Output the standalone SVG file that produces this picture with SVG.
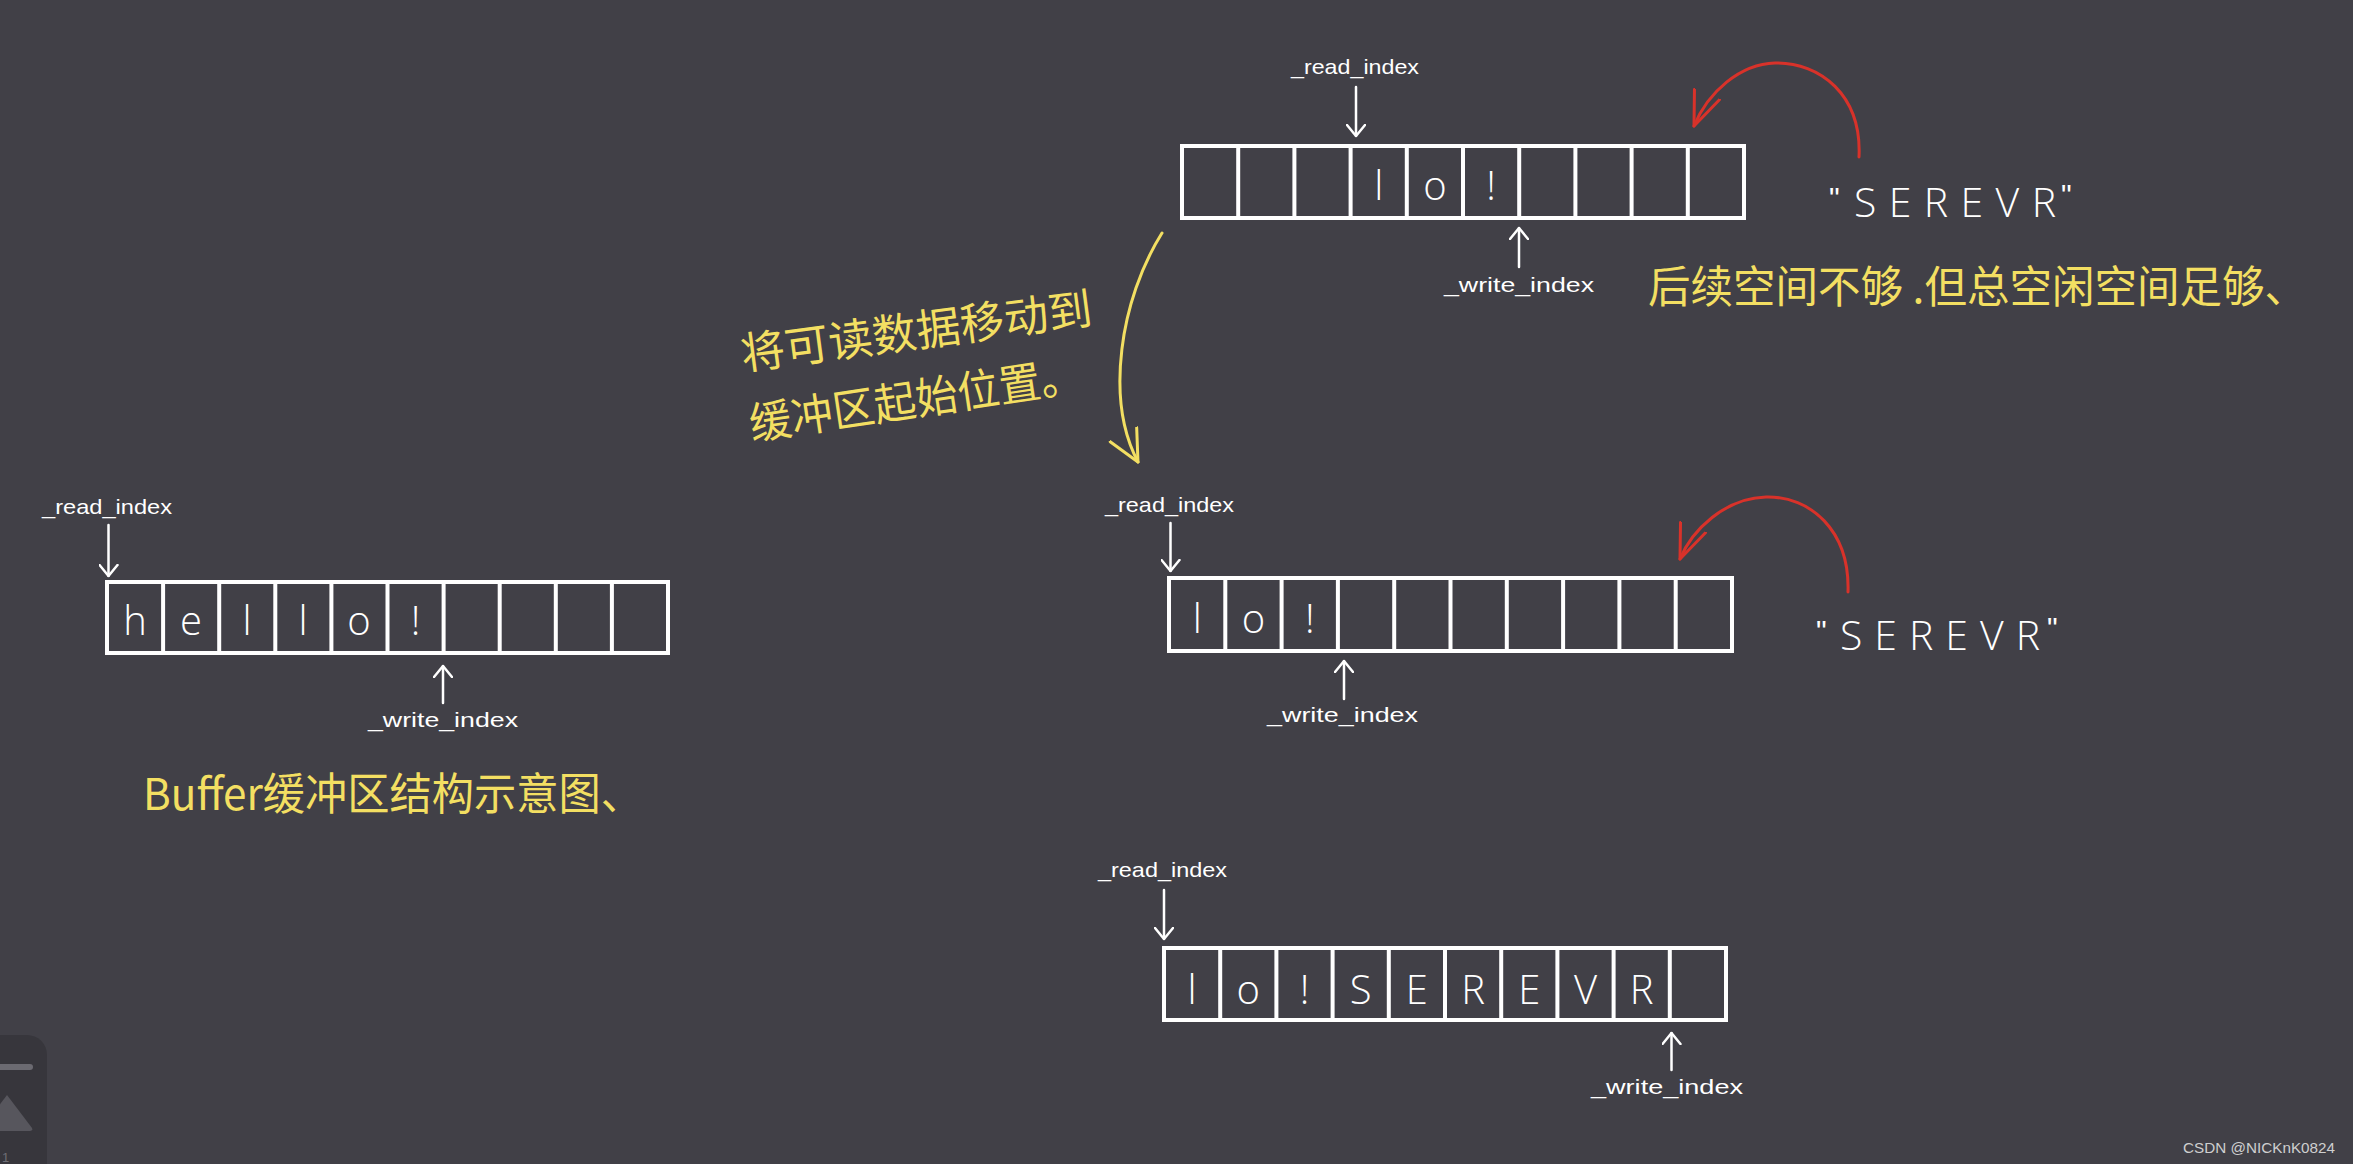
<svg xmlns="http://www.w3.org/2000/svg" width="2353" height="1164" viewBox="0 0 2353 1164">
<style>
.buf{fill:none;stroke:#ffffff;stroke-width:4}
.ch{font-family:"Open Sans","Liberation Sans",sans-serif;font-weight:300;font-size:40px;fill:#ffffff;text-anchor:middle}
.lbl{font-family:"Liberation Sans","DejaVu Sans",sans-serif;font-size:21px;fill:#ffffff}
.idx{fill:none;stroke:#ffffff;stroke-width:2.5;stroke-linecap:round}
.red{fill:none;stroke:#d8322a;stroke-width:3;stroke-linecap:round}
.yel{fill:none;stroke:#f3df62;stroke-width:3;stroke-linecap:round}
.note{font-family:"Noto Sans CJK SC","Liberation Sans",sans-serif;font-size:44px;fill:#f3df62}
.str{font-family:"Open Sans","Liberation Sans",sans-serif;font-weight:300;font-size:41px;fill:#ffffff}
.q{font-family:"Liberation Sans",sans-serif;font-size:30px;fill:#ffffff}
</style>
<defs>
<marker id="wh" viewBox="0 0 13 20" refX="12" refY="10" markerWidth="13" markerHeight="20" markerUnits="userSpaceOnUse" orient="auto">
<path d="M1,1 L12,10 L1,19" fill="none" stroke="#ffffff" stroke-width="2.5" stroke-linecap="round" stroke-linejoin="round"/>
</marker>
<marker id="rd" viewBox="0 0 37 31" refX="35" refY="15.5" markerWidth="37" markerHeight="31" markerUnits="userSpaceOnUse" orient="auto">
<path d="M1,2 L35,15.5 L1,29" fill="none" stroke="#d8322a" stroke-width="3" stroke-linecap="round" stroke-linejoin="round"/>
</marker>
<marker id="yw" viewBox="0 0 34 34" refX="32" refY="17" markerWidth="34" markerHeight="34" markerUnits="userSpaceOnUse" orient="auto">
<path d="M1,2 L32,17 L1,32" fill="none" stroke="#f3df62" stroke-width="3" stroke-linecap="round" stroke-linejoin="round"/>
</marker>
</defs>
<rect x="0" y="0" width="2353" height="1164" fill="#414047"/>

<g id="buffer1">
<rect class="buf" x="107" y="582" width="561" height="71"/>
<path class="buf" d="M163.1,582V653M219.2,582V653M275.3,582V653M331.4,582V653M387.5,582V653M443.6,582V653M499.7,582V653M555.8,582V653M611.9,582V653"/>
<text class="ch" x="135" y="635">h</text>
<text class="ch" x="191" y="635">e</text>
<text class="ch" x="247" y="635">l</text>
<text class="ch" x="303" y="635">l</text>
<text class="ch" x="359" y="635">o</text>
<text class="ch" x="415.5" y="635">!</text>
</g>
<g id="buffer2">
<rect class="buf" x="1182" y="146" width="562" height="72"/>
<path class="buf" d="M1238.2,146V218M1294.4,146V218M1350.6,146V218M1406.8,146V218M1463,146V218M1519.2,146V218M1575.4,146V218M1631.6,146V218M1687.8,146V218"/>
<text class="ch" x="1378.7" y="200">l</text>
<text class="ch" x="1434.9" y="200">o</text>
<text class="ch" x="1491.1" y="200">!</text>
</g>
<g id="buffer3">
<rect class="buf" x="1169" y="578" width="563" height="73"/>
<path class="buf" d="M1225.3,578V651M1281.6,578V651M1337.9,578V651M1394.2,578V651M1450.5,578V651M1506.8,578V651M1563.1,578V651M1619.4,578V651M1675.7,578V651"/>
<text class="ch" x="1197.2" y="633">l</text>
<text class="ch" x="1253.5" y="633">o</text>
<text class="ch" x="1309.8" y="633">!</text>
</g>
<g id="buffer4">
<rect class="buf" x="1164" y="948" width="562" height="72"/>
<path class="buf" d="M1220.2,948V1020M1276.4,948V1020M1332.6,948V1020M1388.8,948V1020M1445,948V1020M1501.2,948V1020M1557.4,948V1020M1613.6,948V1020M1669.8,948V1020"/>
<text class="ch" x="1192.1" y="1004">l</text>
<text class="ch" x="1248.3" y="1004">o</text>
<text class="ch" x="1304.5" y="1004">!</text>
<text class="ch" x="1360.7" y="1004">S</text>
<text class="ch" x="1416.9" y="1004">E</text>
<text class="ch" x="1473.1" y="1004">R</text>
<text class="ch" x="1529.3" y="1004">E</text>
<text class="ch" x="1585.5" y="1004">V</text>
<text class="ch" x="1641.7" y="1004">R</text>
</g>

<g id="labels">
<text class="lbl" x="42" y="514" textLength="130" lengthAdjust="spacingAndGlyphs">_read_index</text>
<text class="lbl" x="368" y="727" textLength="150" lengthAdjust="spacingAndGlyphs">_write_index</text>
<text class="lbl" x="1291" y="74" textLength="128" lengthAdjust="spacingAndGlyphs">_read_index</text>
<text class="lbl" x="1444" y="292" textLength="150" lengthAdjust="spacingAndGlyphs">_write_index</text>
<text class="lbl" x="1105" y="512" textLength="129" lengthAdjust="spacingAndGlyphs">_read_index</text>
<text class="lbl" x="1267" y="722" textLength="151" lengthAdjust="spacingAndGlyphs">_write_index</text>
<text class="lbl" x="1098" y="877" textLength="129" lengthAdjust="spacingAndGlyphs">_read_index</text>
<text class="lbl" x="1591" y="1094" textLength="152" lengthAdjust="spacingAndGlyphs">_write_index</text>
</g>

<g id="serevr-top">
<text class="str" x="1829" y="217"><tspan class="q" y="208">"</tspan><tspan x="1854" y="217" textLength="202" lengthAdjust="spacing">SEREVR</tspan><tspan class="q" x="2061" y="205">"</tspan></text>
</g>
<g id="serevr-mid">
<text class="str" x="1816" y="650"><tspan class="q" y="641">"</tspan><tspan x="1840" y="650" textLength="200" lengthAdjust="spacing">SEREVR</tspan><tspan class="q" x="2047" y="638">"</tspan></text>
</g>

<g id="note-caption">
<text class="note" x="143" y="810" textLength="500" lengthAdjust="spacingAndGlyphs">Buffer缓冲区结构示意图、</text>
</g>
<g id="note-top">
<text class="note" x="1648" y="303" textLength="659" lengthAdjust="spacingAndGlyphs">后续空间不够 .但总空闲空间足够、</text>
</g>
<g id="note-move">
<text class="note" x="743" y="370" transform="rotate(-7.5 743 370)" textLength="354" lengthAdjust="spacingAndGlyphs">将可读数据移动到</text>
<text class="note" x="752" y="440" transform="rotate(-8.5 752 440)" textLength="336" lengthAdjust="spacingAndGlyphs">缓冲区起始位置。</text>
</g>

<g id="connectors">
<path class="idx" d="M108.5,525V576" marker-end="url(#wh)"/>
<path class="idx" d="M443,703V666" marker-end="url(#wh)"/>
<path class="idx" d="M1356,87V136" marker-end="url(#wh)"/>
<path class="idx" d="M1519,267V228" marker-end="url(#wh)"/>
<path class="idx" d="M1170.5,523V571" marker-end="url(#wh)"/>
<path class="idx" d="M1344,699V661" marker-end="url(#wh)"/>
<path class="idx" d="M1164,890V939" marker-end="url(#wh)"/>
<path class="idx" d="M1671.5,1070V1033" marker-end="url(#wh)"/>
<path class="red" d="M1859,157 C1862,95 1820,62 1775,63 C1740,64 1708,92 1694,126" marker-end="url(#rd)"/>
<path class="red" d="M1848,592 C1850,530 1810,496 1766,497 C1725,498 1692,530 1680,559" marker-end="url(#rd)"/>
<path class="yel" d="M1162,233 C1120,300 1105,400 1138,462" marker-end="url(#yw)"/>
</g>

<g id="ui-corner">
<rect x="-20" y="1035" width="67" height="160" rx="20" fill="#37363c"/>
<rect x="-5" y="1064" width="38" height="6" rx="3" fill="#6b6a71"/>
<path d="M7,1095 L32,1128 Q33,1131 30,1131 L-20,1131 Z" fill="#57565d"/>
<text x="2" y="1162" font-family="Liberation Sans, sans-serif" font-size="13" fill="#6f6e75">1</text>
</g>
<g id="watermark">
<text x="2183" y="1153" font-family="Liberation Sans, Arial, sans-serif" font-size="15" fill="#cfcfcf" textLength="152" lengthAdjust="spacingAndGlyphs">CSDN @NICKnK0824</text>
</g>
</svg>
